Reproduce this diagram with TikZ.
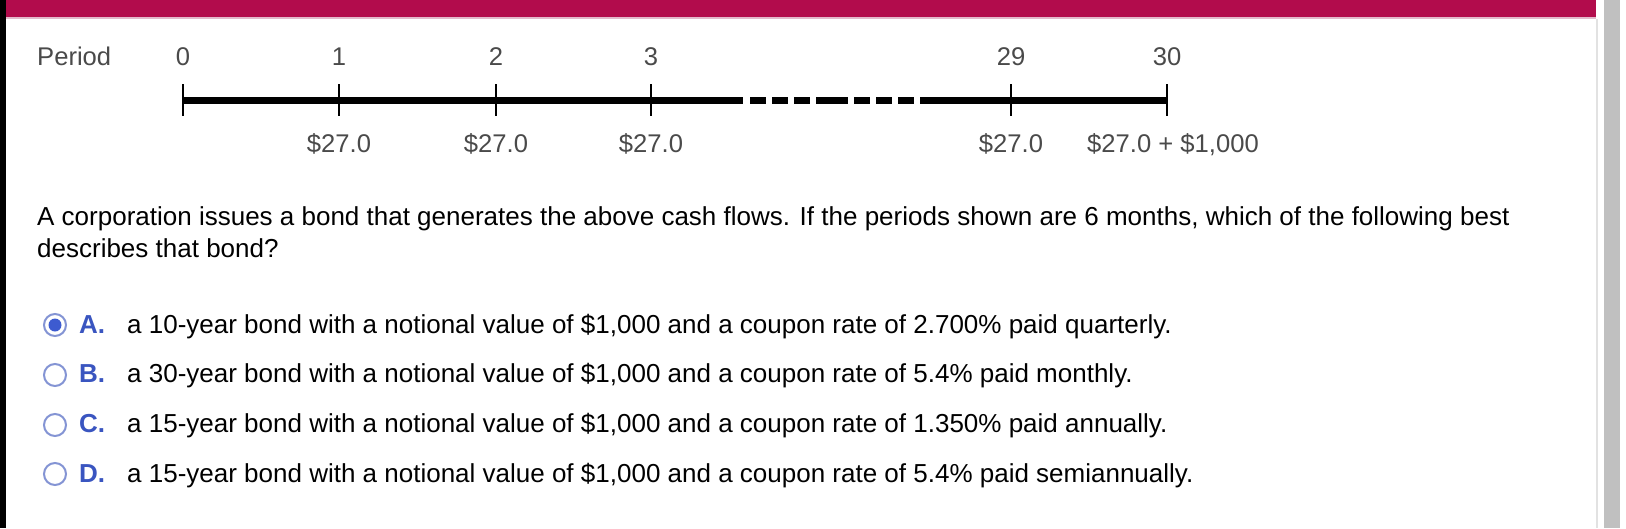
\documentclass[tikz,border=0pt]{standalone}
\usepackage{fontspec}
\setmainfont{Liberation Sans}
\definecolor{barred}{HTML}{B20C4C}
\definecolor{barpink}{HTML}{E3BACB}
\definecolor{tlgray}{HTML}{4A4A4A}
\definecolor{optblue}{HTML}{3A55C0}
\definecolor{ringblue}{HTML}{8494D4}
\definecolor{dotblue}{HTML}{3D5BD0}
\definecolor{sbgray}{HTML}{C0C0C0}
\definecolor{edgegray}{HTML}{E2E2E2}
\tikzset{
  txt/.style={inner sep=0pt, font=\fontsize{26}{31}\selectfont},
  tl/.style={inner sep=0pt, font=\fontsize{25.6}{30}\selectfont, text=tlgray, anchor=base},
  qtxt/.style={txt, text=black, anchor=base west},
  letter/.style={txt, text=optblue, font=\fontsize{26}{31}\selectfont\bfseries, anchor=base west},
  radio/.style={circle, draw=ringblue, line width=2pt, minimum size=22pt, inner sep=0pt, fill=white},
  tick/.style={line width=2pt, black},
  axis/.style={line width=7pt, black},
}
\begin{document}
\begin{tikzpicture}[x=1pt,y=-1pt]
\useasboundingbox (0,0) rectangle (1626,528);
\fill[white] (0,0) rectangle (1626,528);
% frame
\fill[black] (0,0) rectangle (6,528);
\fill[barred] (6,0) rectangle (1596,17);
\fill[barpink] (6,17) rectangle (1596,19);
\fill[edgegray] (1596,19) rectangle (1598,528);
\fill[sbgray] (1604,0) rectangle (1620,528);
% timeline
\node[tl, anchor=base west] (period) at (37,65) {Period};
\foreach \n/\x in {0/183,1/339,2/496,3/651,29/1011,30/1167}{
  \node[tl] (p\n) at (\x,65) {\n};
  \coordinate (t\n) at (\x,100);
  \draw[tick] (\x,84) -- (\x,116);
}
\draw[axis] (t0) -- (743,100);
\foreach \a/\b in {750/766,772/788,794/810,816/848,854/870,876/892,898/914}{
  \draw[axis] (\a,100) -- (\b,100);
}
\draw[axis] (920,100) -- (t30);
\foreach \n/\x in {1/339,2/496,3/651,29/1011}{
  \node[tl] (c\n) at (\x,152) {\$27.0};
}
\node[tl] (c30) at (1173,152) {\$27.0 + \$1,000};
% question
\node[qtxt] (q1) at (37,225) {A corporation issues a bond that generates the above cash flows. If the periods shown are 6 months, which of the following best};
\node[qtxt] (q2) at (37,257) {describes that bond?};
% options
\node[radio] (ra) at (55,325) {};
\fill[dotblue] (ra.center) circle (6.5);
\node[radio] (rb) at (55,375) {};
\node[radio] (rc) at (55,425) {};
\node[radio] (rd) at (55,474) {};
\node[letter] (la) at (79,333) {A.};
\node[letter] (lb) at (79,382) {B.};
\node[letter] (lc) at (79,432) {C.};
\node[letter] (ld) at (79,482) {D.};
\node[qtxt] (oa) at (127,333) {a 10-year bond with a notional value of \$1,000 and a coupon rate of 2.700\% paid quarterly.};
\node[qtxt] (ob) at (127,382) {a 30-year bond with a notional value of \$1,000 and a coupon rate of 5.4\% paid monthly.};
\node[qtxt] (oc) at (127,432) {a 15-year bond with a notional value of \$1,000 and a coupon rate of 1.350\% paid annually.};
\node[qtxt] (od) at (127,482) {a 15-year bond with a notional value of \$1,000 and a coupon rate of 5.4\% paid semiannually.};
\end{tikzpicture}
\end{document}
